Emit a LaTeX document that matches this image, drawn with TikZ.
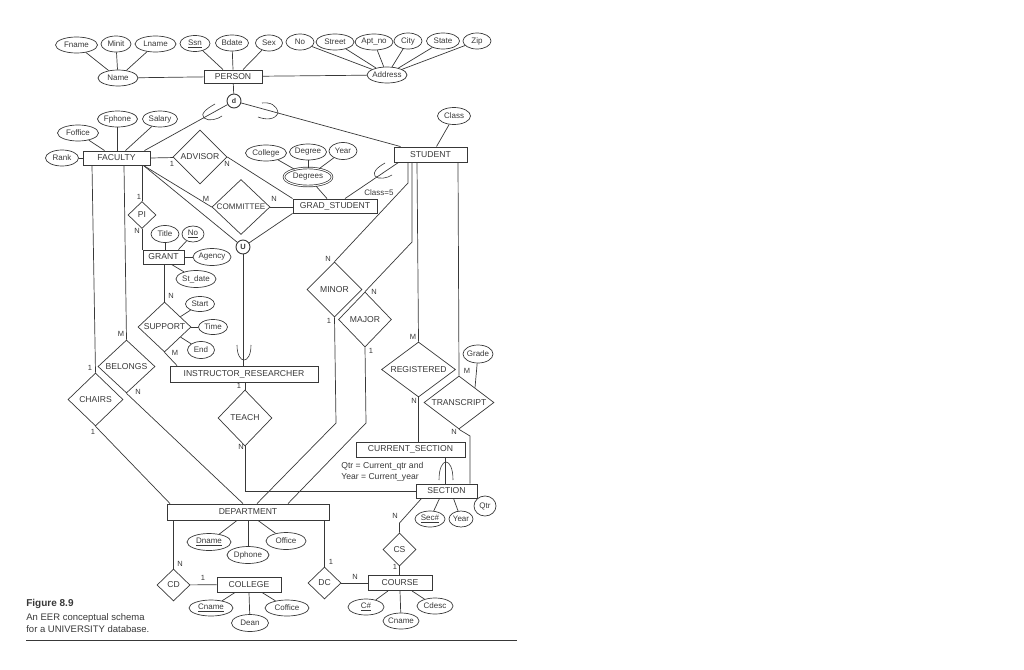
\documentclass[tikz,border=0pt]{standalone}
\usepackage{fontspec}
\setmainfont{Liberation Sans}
\usetikzlibrary{shapes.geometric}
\definecolor{scan}{gray}{0.22}
\newcommand{\tag}[1]{\makebox[0pt]{#1}}

\begin{document}
\begin{tikzpicture}
[x=1pt, y=-1pt, line width=0.7pt, draw=scan,
every node/.style = {align=center, text=scan, font=\fontsize{8}{9.5}\selectfont}]
\tikzstyle{attr} = [ellipse, draw=scan, inner sep=0pt, minimum width=38pt, minimum height=16pt]
\tikzstyle{entity} = [rectangle, draw=scan, line width=0.9pt, inner sep=0pt, minimum height=15pt, font=\fontsize{8.6}{10}\selectfont]
\tikzstyle{rel} = [diamond, draw=scan, inner sep=0pt, font=\fontsize{8.6}{10}\selectfont]
\tikzstyle{gate} = [circle, draw=scan, line width=0.9pt, inner sep=0pt, minimum size=14pt]
\tikzstyle{card} = [inner sep=0pt, font=\fontsize{7.5}{9}\selectfont]
\tikzstyle{subset} = [draw=scan, line width=0.6pt]

\useasboundingbox (0,0) rectangle (1024,669);

% PERSON
\node[entity, minimum width=58pt, minimum height=13pt] (person) at (233,76.5) {PERSON};
\node[attr, minimum width=42pt] (fname) at (76.5,45) {\tag{Fname}};
\node[attr, minimum width=30pt] (minit) at (116,44) {\tag{Minit}};
\node[attr, minimum width=41pt] (lname) at (155.5,44) {\tag{Lname}};
\node[attr, minimum width=30pt] (ssn) at (195,43.5) {\tag{\underline{Ssn}}};
\node[attr, minimum width=33pt] (bdate) at (232,43) {\tag{Bdate}};
\node[attr, minimum width=27pt] (sex) at (269,43) {\tag{Sex}};
\node[attr, minimum width=40pt] (name) at (118,78) {\tag{Name}};
\node[attr, minimum width=28pt] (no) at (300,42) {\tag{No}};
\node[attr] (street) at (335,42) {\tag{Street}};
\node[attr] (aptno) at (374,42) {\tag{Apt\_no}};
\node[attr, minimum width=28pt] (city) at (408,41) {\tag{City}};
\node[attr, minimum width=33pt] (state) at (443,41) {\tag{State}};
\node[attr, minimum width=28pt] (zip) at (477,41) {\tag{Zip}};
\node[attr, minimum width=40pt] (address) at (387,75) {\tag{Address}};
\draw (fname) -- (name);
\draw (minit) -- (name);
\draw (lname) -- (name);
\draw (name) -- (person);
\draw (ssn) -- ([xshift=-10pt]person.north);
\draw (bdate) -- (person.north);
\draw (sex) -- ([xshift=10pt]person.north);
\draw (person) -- (address);
\draw (no) -- (address);
\draw (street) -- (address);
\draw (aptno) -- (address);
\draw (city) -- (address);
\draw (state) -- (address);
\draw (zip) -- (address);

% specialization
\node[gate, font=\bfseries\fontsize{7}{8}\selectfont] (d) at (234,101) {d};
\draw (person) -- (d);

% FACULTY
\node[entity, minimum width=67pt, minimum height=14pt] (faculty) at (116.5,158) {FACULTY};
\node[attr, minimum width=40pt] (fphone) at (117.5,119) {\tag{Fphone}};
\node[attr, minimum width=35pt] (salary) at (160,119) {\tag{Salary}};
\node[attr, minimum width=41pt] (foffice) at (78,133) {\tag{Foffice}};
\node[attr, minimum width=33pt] (rank) at (62,158) {\tag{Rank}};
\draw (fphone) -- (fphone |- faculty.north);
\draw (salary) -- ([xshift=9pt]faculty.north);
\draw (foffice) -- ([xshift=-12pt]faculty.north);
\draw (rank) -- (faculty);
\draw (d) -- ([xshift=28pt]faculty.north);
\draw[subset] (215,104) .. controls (206,109) and (200,114) .. (204,118) .. controls (209,122) and (218,119) .. (222,116);

% STUDENT
\node[entity, minimum width=73pt] (student) at (430.5,154.5) {STUDENT};
\node[attr, minimum width=33pt, minimum height=17pt] (class) at (454,116) {\tag{Class}};
\draw (class) -- ([xshift=6pt]student.north);
\draw (d) -- ([xshift=-30pt]student.north);
\draw[subset] (262,103) .. controls (270,102) and (277,105) .. (278,113);
\draw[subset] (258,117) .. controls (266,120) and (275,120) .. (278,113);

% GRAD_STUDENT
\node[entity, minimum width=84pt, minimum height=14pt] (grad) at (335,206) {GRAD\_STUDENT};
\node[attr, minimum width=41pt] (college) at (266,153) {\tag{College}};
\node[attr, minimum width=37pt] (degree) at (308,152) {\tag{Degree}};
\node[attr, minimum width=28pt, minimum height=17pt] (year) at (343,151) {\tag{Year}};
\node[attr, double, double distance=1pt, minimum width=48pt, minimum height=18pt] (degrees) at (308,177) {\tag{Degrees}};
\node[inner sep=0pt] (classfive) at (379,193) {Class=5};
\draw (college) -- (degrees);
\draw (degree) -- (degrees);
\draw (year) -- (degrees);
\draw (degrees) -- ([xshift=-8pt]grad.north);
\draw ([xshift=10pt]grad.north) -- ([xshift=-32pt]student.south);
\draw[subset] (385,163) .. controls (378,167) and (372,172) .. (375,176) .. controls (378,180) and (388,178) .. (392,175);

% ADVISOR and COMMITTEE
\node[rel, minimum width=54pt, minimum height=54pt] (advisor) at (200,157) {\tag{ADVISOR}};
\node[rel, minimum width=58pt, minimum height=55pt, font=\fontsize{8.1}{10}\selectfont] (committee) at (241,207) {\tag{COMMITTEE}};
\draw (faculty.east) -- (advisor);
\draw (advisor.east) -- (grad.north west);
\draw ([xshift=-7pt]faculty.south east) -- (committee.west);
\draw (committee.east) -- (committee.east -| grad.west);
\node[card] (advone) at (172,164) {1};
\node[card] (advn) at (227,164) {N};
\node[card] (comm) at (206,199) {M};
\node[card] (comn) at (274,199) {N};

% union
\node[gate, font=\bfseries\fontsize{7.5}{8}\selectfont] (u) at (243,247) {U};
\draw ([xshift=-7pt]faculty.south east) -- (u);
\draw (grad.south west) -- (u);

% GRANT
\node[rel, minimum width=28pt, minimum height=27pt] (pi) at (142,215) {\tag{PI}};
\node[entity, minimum width=41pt, minimum height=14pt] (grant) at (163.5,257) {GRANT};
\node[attr, minimum width=28pt, minimum height=17pt] (title) at (165,234) {\tag{Title}};
\node[attr, minimum width=22pt] (grantno) at (193,234) {\tag{\underline{No}}};
\node[attr, minimum height=17pt] (agency) at (212,257) {\tag{Agency}};
\node[attr, minimum width=40pt, minimum height=17pt] (stdate) at (196,279) {\tag{St\_date}};
\draw (pi.north |- faculty.south) -- (pi.north);
\draw (pi.south) -- (pi.south |- grant.north);
\draw (title) -- (title |- grant.north);
\draw (grantno) -- ([xshift=15pt]grant.north);
\draw (agency) -- (grant);
\draw (stdate) -- ([xshift=8pt]grant.south);
\node[card] (pione) at (139,197) {1};
\node[card] (pin) at (137,231) {N};

% SUPPORT
\node[rel, minimum width=53pt, minimum height=50pt] (support) at (164.5,327) {\tag{SUPPORT}};
\node[attr, minimum width=29pt, minimum height=15pt] (start) at (200,304) {\tag{Start}};
\node[attr, minimum width=29pt, minimum height=15pt] (time) at (213,327) {\tag{Time}};
\node[attr, minimum width=27pt, minimum height=17pt] (end) at (201,350) {\tag{End}};
\draw (grant.south -| support.north) -- (support.north);
\draw (support) -- (start);
\draw (support) -- (time);
\draw (support) -- (end);
\node[card] (supn) at (171,296) {N};
\node[card] (supm) at (175,353) {M};

% INSTRUCTOR_RESEARCHER
\node[entity, minimum width=148pt, minimum height=16pt] (instr) at (244,374) {INSTRUCTOR\_RESEARCHER};
\draw (u) -- (u |- instr.north);
\draw (support.south) -- ([xshift=-67pt]instr.north);
\draw[subset] (237,345) .. controls (237,365) and (251,365) .. (251,345);

% TEACH
\node[rel, minimum width=54pt, minimum height=56pt] (teach) at (245,418) {\tag{TEACH}};
\draw (teach.north |- instr.south) -- (teach.north);
\node[card] (teaone) at (239,386) {1};
\node[card] (tean) at (241,447) {N};

% BELONGS and CHAIRS
\node[rel, minimum width=57pt, minimum height=53pt] (belongs) at (126.5,366.5) {\tag{BELONGS}};
\node[rel, minimum width=55pt, minimum height=53pt] (chairs) at (95.5,399.5) {\tag{CHAIRS}};
\draw ([xshift=7.5pt]faculty.south) -- (belongs.north);
\draw ([xshift=-24.5pt]faculty.south) -- (chairs.north);
\node[card] (belm) at (121,334) {M};
\node[card] (beln) at (138,392) {N};
\node[card] (chaone) at (90,368) {1};
\node[card] (chaonb) at (93,432) {1};

% DEPARTMENT
\node[entity, minimum width=162pt, minimum height=16pt] (dept) at (248,512) {DEPARTMENT};
\draw (belongs.south) -- ([xshift=-5pt]dept.north);
\draw (chairs.south) -- ([xshift=-78pt]dept.north);
\node[attr, minimum width=44pt, minimum height=17pt] (dname) at (209,542) {\tag{\underline{Dname}}};
\node[attr, minimum width=42pt, minimum height=17pt] (dphone) at (248,555) {\tag{Dphone}};
\node[attr, minimum width=40pt, minimum height=17pt] (office) at (286,541) {\tag{Office}};
\draw ([xshift=-11pt]dept.south) -- (dname);
\draw (dept.south) -- (dphone);
\draw ([xshift=10pt]dept.south) -- (office);

% MINOR and MAJOR
\node[rel, minimum width=55pt, minimum height=55pt] (minor) at (334.5,289.5) {\tag{MINOR}};
\node[rel, minimum width=53pt, minimum height=55pt] (major) at (365,319.5) {\tag{MAJOR}};
\coordinate (minorbend) at (408,183);
\coordinate (majorbend) at (412,242);
\coordinate (minorfoot) at (336,423);
\coordinate (majorfoot) at (366,423);
\draw ([xshift=-22.5pt]student.south) -- (minorbend) -- (minor.north);
\draw ([xshift=-18.5pt]student.south) -- (majorbend) -- (major.north);
\draw (minor.south) -- (minorfoot) -- ([xshift=9pt]dept.north);
\draw (major.south) -- (majorfoot) -- ([xshift=40pt]dept.north);
\node[card] (minn) at (328,259) {N};
\node[card] (minone) at (329,321) {1};
\node[card] (majn) at (374,292) {N};
\node[card] (majone) at (371,351) {1};

% REGISTERED and TRANSCRIPT
\node[rel, minimum width=74pt, minimum height=55pt] (reg) at (418.5,369.5) {\tag{REGISTERED}};
\node[rel, minimum width=70pt, minimum height=53pt] (trans) at (459,402.5) {\tag{TRANSCRIPT}};
\node[attr, minimum width=30pt, minimum height=18pt] (grade) at (478,354) {\tag{Grade}};
\draw ([xshift=-13.5pt]student.south) -- (reg.north);
\draw ([xshift=27.5pt]student.south) -- (trans.north);
\draw (grade) -- ([xshift=16pt,yshift=-12pt]trans.north);
\node[card] (regm) at (413,337) {M};
\node[card] (regn) at (414,401) {N};
\node[card] (trm) at (467,371) {M};
\node[card] (trn) at (454,432) {N};

% SECTION
\node[entity, minimum width=109pt] (current) at (410.5,449.5) {CURRENT\_SECTION};
\node[entity, minimum width=61pt, minimum height=14pt] (section) at (446.5,491) {SECTION};
\node[inner sep=0pt, anchor=west, align=left, font=\fontsize{8.6}{11}\selectfont] (qtrtext) at (341,471.5) {Qtr = Current\_qtr and\\Year = Current\_year};
\node[attr, minimum width=22pt, minimum height=20pt] (qtr) at (485,506) {\tag{Qtr}};
\node[attr, minimum width=30pt] (secno) at (430,519) {\tag{\underline{Sec\#}}};
\node[attr, minimum width=24pt] (secyear) at (461,519) {\tag{Year}};
\coordinate (transbend) at (470,436);
\draw (reg.south) -- (reg.south |- current.north);
\draw (trans.south) -- (transbend) -- (transbend |- section.north);
\draw ([xshift=-1.5pt]section.north) -- ([xshift=34.5pt]current.south);
\draw[subset] (439,480) .. controls (439,456) and (453,456) .. (453,480);
\draw (teach.south) -- (teach.south |- section.west) -- (section.west);
\draw (section.south east) -- (qtr);
\draw ([xshift=-7pt]section.south) -- (secno);
\draw ([xshift=7pt]section.south) -- (secyear);

% COLLEGE
\node[rel, minimum width=33pt, minimum height=32pt] (cd) at (173.5,585) {\tag{CD}};
\node[entity, minimum width=64pt] (collegeent) at (249,584.5) {COLLEGE};
\node[attr, minimum width=44pt] (cname) at (211,608) {\tag{\underline{Cname}}};
\node[attr, minimum width=37pt, minimum height=17pt] (dean) at (250,623) {\tag{Dean}};
\node[attr, minimum width=44pt] (coffice) at (287,608) {\tag{Coffice}};
\draw (cd.north) -- (cd.north |- dept.south);
\draw (cd) -- (collegeent);
\draw ([xshift=-14pt]collegeent.south) -- (cname);
\draw (collegeent.south) -- (dean);
\draw ([xshift=13pt]collegeent.south) -- (coffice);
\node[card] (cdn) at (180,564) {N};
\node[card] (cdone) at (203,578) {1};

% COURSE
\node[rel, minimum width=33pt, minimum height=32pt] (dc) at (324.5,583) {\tag{DC}};
\node[rel, minimum width=33pt, minimum height=33pt] (cs) at (399.5,549.5) {\tag{CS}};
\node[entity, minimum width=64pt] (course) at (400,583) {COURSE};
\node[attr, minimum width=36pt] (cno) at (366,607) {\tag{\underline{C\#}}};
\node[attr, minimum width=36pt] (coname) at (401,621) {\tag{Cname}};
\node[attr, minimum width=36pt] (cdesc) at (435,606) {\tag{Cdesc}};
\coordinate (csbend) at (399.5,523);
\draw (dc.north) -- (dc.north |- dept.south);
\draw (dc) -- (course);
\draw (cs.south) -- (cs.south |- course.north);
\draw (cs.north) -- (csbend) -- ([xshift=-25pt]section.south);
\draw ([xshift=-12pt]course.south) -- (cno);
\draw (course.south) -- (coname);
\draw ([xshift=12pt]course.south) -- (cdesc);
\node[card] (dcone) at (331,562) {1};
\node[card] (dcn) at (355,577) {N};
\node[card] (csn) at (395,516) {N};
\node[card] (csone) at (395,567) {1};

% caption
\node[inner sep=0pt, anchor=west, font=\bfseries\fontsize{10}{12}\selectfont] (figno) at (26,604) {Figure 8.9};
\node[inner sep=0pt, anchor=north west, align=left, font=\fontsize{9.5}{12}\selectfont] (capt) at (26,613) {An EER conceptual schema\\for a UNIVERSITY database.};
\coordinate (ruleleft) at (26,640);
\coordinate (ruleright) at (517,640);
\draw[line width=1pt] (ruleleft) -- (ruleright);

\end{tikzpicture}
\end{document}
